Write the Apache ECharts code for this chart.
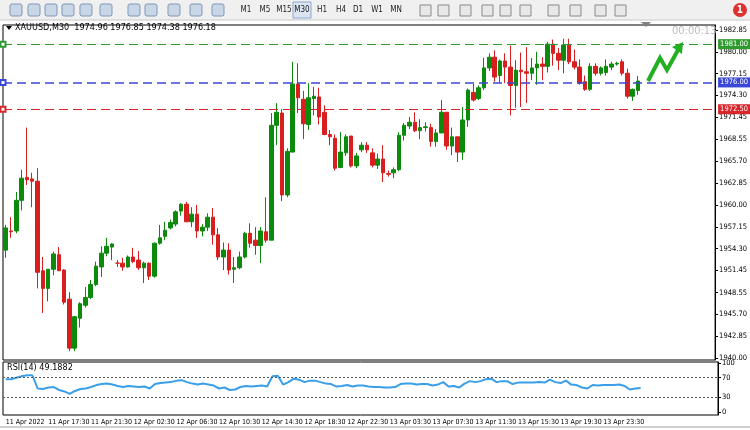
<!DOCTYPE html>
<html><head><meta charset="utf-8">
<script src="https://cdn.jsdelivr.net/npm/echarts@6/dist/echarts.min.js"></script>
<style>html,body{margin:0;padding:0;background:#fff}#c{width:750px;height:430px}</style>
</head><body><div id="c"></div>
<script>
const tickLabels=['11 Apr 2022','11 Apr 17:30','11 Apr 21:30','12 Apr 02:30','12 Apr 06:30','12 Apr 10:30','12 Apr 14:30','12 Apr 18:30','12 Apr 22:30','13 Apr 03:30','13 Apr 07:30','13 Apr 11:30','13 Apr 15:30','13 Apr 19:30','13 Apr 23:30'];
const opens=[1954.1,1956.6,1956.6,1960.6,1963.6,1963.4,1963.1,1951.4,1949.1,1951.6,1953.5,1951.5,1947.7,1941.3,1945.2,1946.9,1947.9,1949.6,1951.9,1953.7,1954.5,1952.4,1952.4,1951.9,1953.2,1952.8,1951.8,1952.4,1950.7,1955.0,
1955.9,1957.0,1957.5,1959.2,1960.1,1957.8,1958.8,1956.6,1957.1,1958.4,1956.1,1953.2,1954.1,1951.6,1951.8,1953.2,1956.3,1955.4,1954.7,1956.5,1955.4,1970.4,1972.0,1961.3,1966.9,1975.8,1973.8,1970.5,1973.9,1974.1,
1972.1,1969.2,1968.7,1964.9,1966.8,1969.0,1965.1,1967.2,1967.8,1966.8,1965.2,1966.0,1964.1,1964.2,1964.6,1969.1,1970.3,1970.8,1969.7,1970.1,1970.1,1968.3,1969.4,1972.1,1967.7,1968.9,1966.9,1971.1,1974.7,1973.9,
1975.3,1977.9,1979.3,1976.9,1978.8,1978.0,1975.6,1977.6,1977.4,1977.2,1977.9,1978.4,1978.1,1981.0,1979.8,1978.9,1980.9,1978.7,1978.0,1976.1,1975.1,1978.1,1977.2,1977.3,1978.0,1978.4,1978.7,1977.2,1974.2,1974.96];
const closes=[1957.0,1956.5,1960.6,1963.5,1963.3,1963.1,1951.2,1949.1,1951.6,1953.6,1951.4,1947.3,1941.3,1945.4,1947.1,1947.9,1949.6,1952.0,1953.7,1954.6,1954.9,1952.4,1951.9,1953.2,1952.6,1951.8,1952.4,1950.7,1955.0,1955.7,
1956.7,1957.7,1959.1,1960.1,1957.8,1958.8,1956.6,1957.1,1958.4,1956.1,1953.2,1954.1,1951.5,1951.8,1953.2,1956.3,1955.0,1954.7,1956.6,1955.4,1970.4,1972.1,1961.3,1967.0,1975.8,1974.0,1970.6,1974.0,1974.2,1971.5,
1969.2,1968.9,1964.8,1966.9,1968.9,1965.1,1966.4,1967.8,1967.2,1965.2,1966.0,1964.2,1964.0,1964.6,1969.1,1970.4,1970.8,1969.7,1970.1,1970.2,1968.3,1969.4,1972.1,1967.7,1968.9,1966.9,1971.1,1975.0,1973.7,1975.3,
1977.9,1979.3,1976.7,1978.8,1978.0,1975.6,1977.6,1977.4,1977.2,1977.9,1978.4,1978.1,1981.0,1979.8,1978.9,1980.9,1978.7,1978.0,1975.9,1975.1,1978.1,1977.2,1977.9,1978.1,1978.4,1978.5,1977.2,1974.2,1975.1,1976.18];
const highs=[1957.4,1958.4,1961.7,1964.6,1970.1,1964.2,1964.8,1953.2,1951.6,1953.9,1954.5,1951.6,1948.6,1945.5,1947.3,1949.3,1950.2,1952.6,1954.6,1955.7,1955.0,1952.8,1953.1,1953.4,1954.4,1954.0,1952.6,1952.5,1955.1,1957.4,
1957.8,1958.1,1959.3,1960.2,1960.4,1959.7,1960.0,1957.5,1958.9,1959.6,1957.0,1955.1,1955.0,1953.2,1953.9,1956.5,1957.6,1957.1,1957.1,1961.0,1972.0,1973.3,1972.5,1967.4,1978.7,1978.5,1974.9,1975.9,1975.4,1975.3,
1973.0,1969.8,1969.2,1969.5,1969.2,1969.0,1966.8,1968.2,1968.2,1967.4,1966.7,1967.8,1964.5,1964.9,1969.5,1970.7,1971.5,1972.1,1971.2,1970.8,1970.6,1969.9,1973.7,1972.1,1970.1,1968.9,1972.8,1975.2,1975.8,1975.6,
1979.2,1979.8,1980.2,1979.0,1979.8,1980.8,1978.9,1979.9,1980.6,1979.2,1980.0,1979.3,1981.3,1981.6,1980.5,1981.7,1981.7,1980.3,1979.0,1976.9,1978.5,1978.5,1978.1,1979.0,1978.7,1978.7,1979.0,1977.8,1975.2,1976.85];
const lows=[1953.1,1955.7,1956.3,1959.3,1962.6,1959.7,1949.1,1945.9,1947.4,1950.8,1951.4,1947.0,1940.9,1940.9,1944.0,1946.6,1947.7,1949.4,1950.6,1953.3,1952.8,1951.9,1951.4,1951.8,1952.4,1951.5,1949.8,1950.2,1950.5,1954.8,
1955.4,1956.8,1957.2,1958.6,1957.8,1957.1,1955.7,1955.9,1956.6,1954.8,1952.8,1951.5,1950.9,1949.8,1951.6,1953.0,1954.4,1953.5,1952.4,1955.1,1955.4,1967.8,1960.5,1961.0,1966.9,1972.0,1968.6,1969.8,1971.7,1970.5,
1969.1,1967.8,1964.5,1964.8,1966.4,1964.9,1964.8,1966.9,1966.8,1964.9,1964.7,1963.0,1963.7,1963.5,1964.4,1968.4,1969.9,1969.5,1968.6,1969.6,1967.6,1967.6,1969.4,1967.2,1966.5,1965.6,1965.9,1970.2,1973.5,1973.7,
1975.0,1977.5,1976.1,1976.0,1975.9,1971.7,1972.7,1972.8,1973.3,1976.3,1975.7,1976.3,1977.3,1978.2,1977.6,1977.2,1978.4,1977.7,1975.7,1974.9,1974.9,1976.9,1976.9,1976.9,1977.6,1978.2,1976.9,1973.9,1973.6,1974.38];
const rsi=[67,67,70,73,75,75,48,47,50,51,45,42,37,43,47,48,51,55,57,58,56,53,51,53,52,51,52,48,57,59,
60,61,64,65,61,58,56,58,56,54,48,50,45,46,51,53,52,53,54,52,73,74,56,61,68,66,61,64,64,61,
58,57,52,53,55,52,54,54,52,51,51,50,50,51,57,58,58,56,57,57,54,56,61,52,53,50,58,63,61,63,
67,68,61,63,63,57,60,60,60,60,61,60,66,61,59,64,56,55,50,48,55,54,55,55,55,56,53,46,48,49.1882];
const priceTicks=[1982.85,1980.00,1977.15,1974.30,1971.45,1968.55,1965.70,1962.85,1960.00,1957.15,1954.30,1951.45,1948.55,1945.70,1942.85,1940.00];
const levels=[{v:1981.00,c:'#2f9b2f'},{v:1976.00,c:'#3a46d6'},{v:1972.50,c:'#d8262b'}];

const N=134;
const cats=[];for(let i=0;i<N;i++){cats.push(i<120&&i%8===0?tickLabels[i/8]:'');}
const ohlc=opens.map((o,i)=>[o,closes[i],lows[i],highs[i]]);

const chart=echarts.init(document.getElementById('c'),null,{renderer:'canvas'});
const F='"Liberation Sans Narrow", "DejaVu Sans Condensed", Tahoma, sans-serif';
const tb=['M1','M5','M15','M30','H1','H4','D1','W1','MN'];
const tbx=[246,265,284,302,322,341,358,377,396];
const graphic=[
 {type:'rect',shape:{x:0,y:0,width:750,height:20},style:{fill:'#f0f0f0'},z:10},
 {type:'line',shape:{x1:0,y1:20,x2:750,y2:20},style:{stroke:'#c8c8c8'},z:10},
 {type:'rect',shape:{x:293,y:2,width:18,height:16},style:{fill:'#dbe4f1',stroke:'#8aa7cf'},z:10},
 {type:'circle',shape:{cx:740,cy:10,r:7},style:{fill:'#e03030'},z:11},
 {type:'text',style:{text:'1',x:740,y:10,fill:'#fff',font:'bold 10px '+F,align:'center',verticalAlign:'middle'},z:12},
 {type:'text',style:{text:'XAUUSD,M30  1974.96 1976.85 1974.38 1976.18',x:15,y:28,fill:'#000',font:'9px '+F,verticalAlign:'middle'},z:12},
 {type:'polygon',shape:{points:[[6,26],[12,26],[9,30]]},style:{fill:'#000'},z:12},
 {type:'text',style:{text:'RSI(14) 49.1882',x:7,y:368,fill:'#000',font:'9px '+F,verticalAlign:'middle'},z:12},
 {type:'text',style:{text:'00:00:13',x:672,y:31,fill:'#bdbdbd',font:'11px '+F,align:'left',verticalAlign:'middle'},z:30},
 {type:'polygon',shape:{points:[[641,22],[651,22],[646,27]]},style:{fill:'#808080'},z:12},
 {type:'polyline',shape:{points:[[648,81],[660,58],[667,70],[678,50]]},style:{stroke:'#22b022',lineWidth:4,fill:null},z:12},
 {type:'polygon',shape:{points:[[672,47],[683,42],[682,54]]},style:{fill:'#22b022'},z:12},
 {type:'line',shape:{x1:0,y1:427,x2:750,y2:427},style:{stroke:'#a0a0a0'},z:10}
];
tb.forEach((t,i)=>graphic.push({type:'text',style:{text:t,x:tbx[i],y:10,fill:'#222',font:'8px '+F,align:'center',verticalAlign:'middle'},z:12}));
[10,28,45,62,80,100,128,145,168,190,212].forEach(x=>graphic.push({type:'rect',shape:{x:x,y:4,width:12,height:12,r:2},style:{fill:'#c9d6e6',stroke:'#7f97b8'},z:11}));
[420,438,460,482,500,520,548,570,595,615].forEach(x=>graphic.push({type:'rect',shape:{x:x,y:5,width:11,height:11},style:{fill:'#e8e8e8',stroke:'#8a8a8a'},z:11}));

chart.setOption({
 animation:false,
 backgroundColor:'#fff',
 graphic:graphic,
 grid:[{left:3,top:25,width:715,height:335,show:true,borderColor:'#000',borderWidth:1},
       {left:3,top:362,width:715,height:53,show:true,borderColor:'#000',borderWidth:1}],
 xAxis:[
  {type:'category',data:cats,gridIndex:0,boundaryGap:true,axisLine:{show:false},axisTick:{show:false},axisLabel:{show:false},splitLine:{show:false}},
  {type:'category',data:cats,gridIndex:1,boundaryGap:true,axisLine:{show:false},
   axisTick:{show:false},
   axisLabel:{interval:0,fontSize:7,fontFamily:F,color:'#000',align:'left',margin:4,
     formatter:v=>v},splitLine:{show:false}}
 ],
 yAxis:[
  {type:'value',gridIndex:0,position:'right',min:1939.75,max:1983.5,scale:true,
   axisLine:{show:true,lineStyle:{color:'#000'}},axisTick:{show:true,length:3,customValues:priceTicks,lineStyle:{color:'#000'}},
   axisLabel:{customValues:priceTicks,fontSize:7.5,fontFamily:F,color:'#000',margin:4,formatter:v=>v.toFixed(2)},splitLine:{show:false}},
  {type:'value',gridIndex:1,position:'right',min:-6,max:102,
   axisLine:{show:true,lineStyle:{color:'#000'}},axisTick:{show:true,length:3,customValues:[0,30,70,100],lineStyle:{color:'#000'}},
   axisLabel:{customValues:[0,30,70,100],fontSize:7.5,fontFamily:F,color:'#000',margin:4},splitLine:{show:false}}
 ],
 series:[
  {type:'candlestick',xAxisIndex:0,yAxisIndex:0,data:ohlc,barWidth:4,z:5,
   itemStyle:{color:'#0b8a0b',color0:'#d81e1e',borderColor:'#0b8a0b',borderColor0:'#d81e1e',borderWidth:1},
   markLine:{silent:true,symbol:['emptyRect','none'],symbolSize:5,precision:2,z:20,
     data:levels.map(l=>({yAxis:l.v,lineStyle:{color:l.c,type:[9,5],width:l.v===1976?1.5:1},
       label:{show:true,position:'end',formatter:l.v.toFixed(2),color:'#fff',backgroundColor:l.c,fontSize:7.5,fontFamily:F,padding:[1,2],distance:3}}))}},
  {type:'line',xAxisIndex:1,yAxisIndex:1,data:rsi,showSymbol:false,lineStyle:{color:'#3a9ee8',width:2},
   markLine:{silent:true,symbol:'none',label:{show:false},lineStyle:{color:'#555',type:[2,2],width:1},data:[{yAxis:70},{yAxis:30}]}}
 ]
});
</script></body></html>
